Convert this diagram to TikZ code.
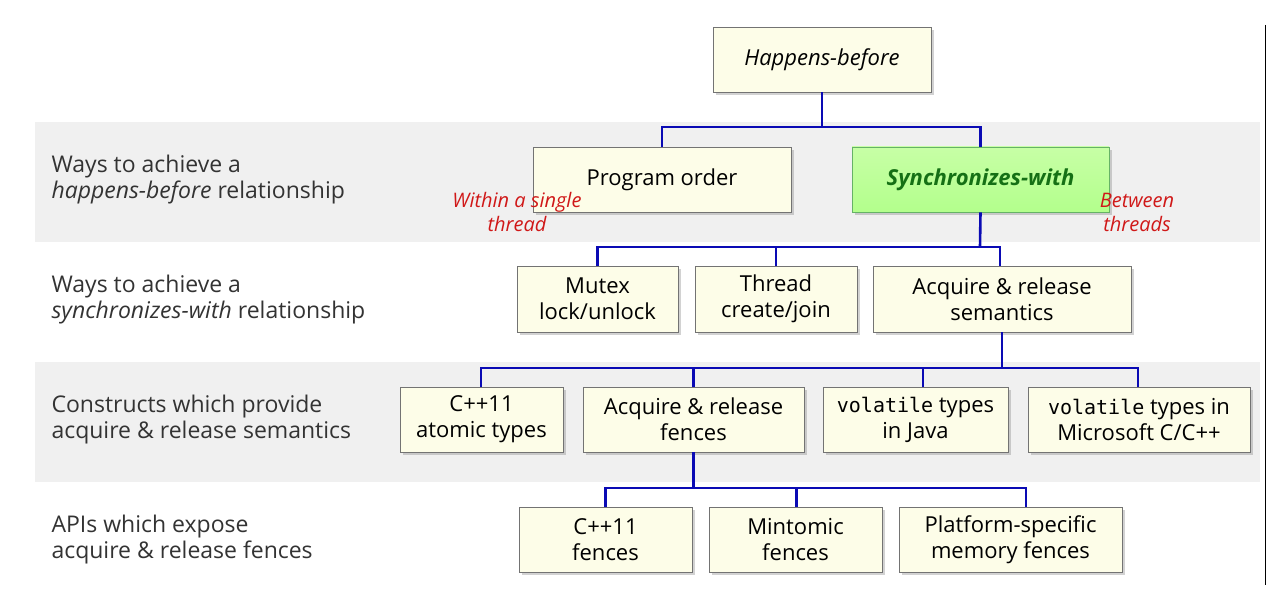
\documentclass[tikz,border=0pt]{standalone}
\usepackage{fontspec}
\setmainfont{Open Sans}
\newfontfamily\monof{DejaVu Sans Mono}
\usetikzlibrary{shadows}
\definecolor{boxfill}{HTML}{FDFDE8}
\definecolor{band}{HTML}{F0F0F0}
\definecolor{conn}{HTML}{0A0AB4}
\definecolor{redt}{HTML}{D01818}
\definecolor{greent}{HTML}{157015}
\begin{document}
\begin{tikzpicture}[x=1pt,y=-1pt,
  bx/.style={draw=black!55,line width=0.8pt,fill=boxfill,drop shadow={opacity=0.35,shadow xshift=3pt,shadow yshift=-3pt},align=center,font=\fontsize{22}{26}\selectfont,inner sep=0pt},
  lab/.style={anchor=west,align=left,font=\fontsize{23}{26}\selectfont,text=black!80},
  rl/.style={align=center,font=\fontsize{20}{24}\selectfont\itshape,text=redt},
  cn/.style={draw=conn,line width=2.6pt}]
\useasboundingbox (0,0) rectangle (1278,604);
\fill[white] (0,0) rectangle (1278,604);
\fill[band] (35,122) rectangle (1260,242);
\fill[band] (35,362) rectangle (1260,482);
\draw[black,line width=1pt] (1265,25) -- (1265,585);
\newcommand{\bxat}[4]{\node[bx,minimum width={#3-#1},minimum height={#4-#2}] at ({(#1+#3)/2},{(#2+#4)/2})}
\bxat{713}{27}{931}{92} (hb) {\itshape Happens-before};
\bxat{533}{147}{791}{212} (po) {Program order};
\node[bx,minimum width=257,minimum height=65,top color=green!50!lime!35,bottom color=green!55!lime!45,draw=green!50!black!60,text=greent,font=\fontsize{22}{26}\selectfont\bfseries\itshape] at (980.5,179.5) (sw) {Synchronizes-with};
\bxat{517}{266}{678}{332} (mu) {Mutex\\lock/unlock};
\bxat{695}{266}{857}{332} (th) {Thread\\create/join};
\bxat{873}{266}{1131}{332} (ar) {Acquire \& release\\semantics};
\bxat{400}{387}{563}{452} (at) {C++11\\atomic types};
\bxat{583}{387}{804}{452} (fe) {Acquire \& release\\fences};
\bxat{823}{387}{1008}{452} (vj) {{\monof\fontsize{20}{26}\selectfont volatile} types\\in Java};
\bxat{1028}{387}{1250}{452} (vm) {{\monof\fontsize{20}{26}\selectfont volatile} types in\\Microsoft C/C++};
\bxat{519}{507}{692}{572} (cf) {C++11\\fences};
\bxat{709}{507}{882}{572} (mf) {Mintomic\\fences};
\bxat{899}{507}{1122}{572} (pf) {Platform-specific\\memory fences};
% connectors
\coordinate (j1) at (822,127);
\draw[cn] (hb.south) -- (j1);
\draw[cn] (j1) -| (po.north);
\draw[cn] (j1) -| (sw.north);
\coordinate (j2) at (980,247);
\draw[cn] (sw.south) -- (j2);
\draw[cn] (j2) -| (mu.north);
\draw[cn] (j2) -| (th.north);
\draw[cn] (j2) -| ([xshift=-2pt]ar.north);
\coordinate (j3) at (1002,368);
\draw[cn] (ar.south) -- (j3);
\draw[cn] (j3) -| ([xshift=-0.5pt]at.north);
\draw[cn] (j3) -| (fe.north);
\draw[cn] (j3) -| (vj.north -| 923,0);
\draw[cn] (j3) -| (vm.north -| 1138,0);
\coordinate (j4) at (693.5,488);
\draw[cn] (fe.south) -- (j4);
\draw[cn] (j4) -| (cf.north);
\draw[cn] (j4) -| ([xshift=1pt]mf.north);
\draw[cn] (j4) -| (pf.north -| 1026,0);
% red labels
\node[rl] (r1) at (517,212) {Within a single\\thread};
\node[rl] (r2) at (1137,212) {Between\\threads};
% left labels
\node[lab] (l1) at (48,180) {Ways to achieve a\\{\itshape happens-before} relationship};
\node[lab] (l2) at (48,300) {Ways to achieve a\\{\itshape synchronizes-with} relationship};
\node[lab] (l3) at (48,420) {Constructs which provide\\acquire \& release semantics};
\node[lab] (l4) at (48,540) {APIs which expose\\acquire \& release fences};
\end{tikzpicture}
\end{document}
